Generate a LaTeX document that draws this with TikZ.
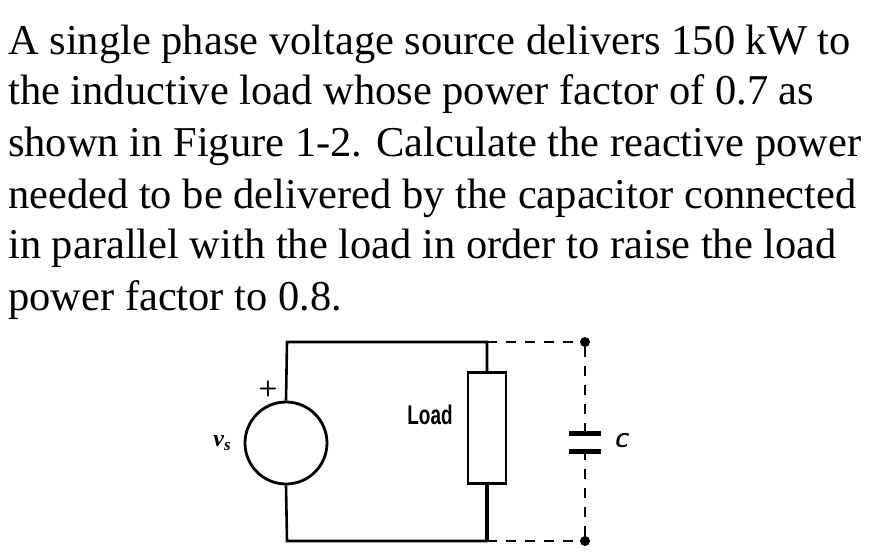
\documentclass[tikz,border=0pt]{standalone}
\usepackage{fontspec}
\setmainfont{Liberation Serif}
\newfontfamily\cirfont{Liberation Sans}[FakeStretch=0.7]
\begin{document}
\begin{tikzpicture}[x=1pt,y=-1pt, >=stealth,
    txt/.style={anchor=base west, inner sep=0pt, font=\fontsize{42.5}{50}\selectfont},
    wire/.style={line width=2.6pt},
    dashwire/.style={line width=2.6pt, dash pattern=on 10pt off 9pt},
    dot/.style={circle, fill, inner sep=0pt, minimum size=10pt}]
    \useasboundingbox (0,0) rectangle (888,559);
    % problem text
    \node[txt] (l1) at (8,55) {A single phase voltage source delivers 150 kW to};
    \node[txt] (l2) at (8,105) {the inductive load whose power factor of 0.7 as};
    \node[txt] (l3) at (8,157) {shown in Figure 1-2. Calculate the reactive power};
    \node[txt] (l4) at (8,208) {needed to be delivered by the capacitor connected};
    \node[txt] (l5) at (8,258) {in parallel with the load in order to raise the load};
    \node[txt] (l6) at (8,310) {power factor to 0.8.};
    % circuit
    \node[circle, draw, line width=2.8pt, minimum size=82pt, inner sep=0pt] (src) at (286,443) {};
    \node[rectangle, draw, line width=2.6pt, minimum width=38pt, minimum height=111pt, inner sep=0pt] (load) at (487,428) {};
    \coordinate (tl) at (287,342);
    \coordinate (bl) at (287,541);
    \coordinate (tm) at (487,342);
    \coordinate (bm) at (487,541);
    \node[dot] (tr) at (585,342) {};
    \node[dot] (br) at (585,541) {};
    \coordinate (p1) at (585,433);
    \coordinate (p2) at (585,451);
    \draw[wire] (src.north) -- (tl) -- (tm) -- (load.north);
    \draw[wire] (src.south) -- (bl) -- (bm);
    \draw[line width=4pt] (load.south) -- (bm);
    \draw[dashwire] (tm) -- (tr);
    \draw[dashwire] (bm) -- (br);
    \draw[dashwire] (tr) -- (p1);
    \draw[dashwire] (br) -- (p2);
    \draw[line width=5pt] (569,433) -- (601,433);
    \draw[line width=5pt] (569,451) -- (601,451);
    % labels
    \node[font=\cirfont\bfseries\fontsize{27}{28}\selectfont] (loadlbl) at (430,415) {Load};
    \node[font=\sffamily\bfseries\itshape\fontsize{20}{20}\selectfont] (clbl) at (621,441) {C};
    \node[font=\sffamily\bfseries\fontsize{22}{22}\selectfont] (plus) at (268,389) {+};
    \node[font=\bfseries\itshape\fontsize{24}{24}\selectfont] (vs) at (222,443) {v\raisebox{-4pt}{\fontsize{17}{17}\selectfont s}};
\end{tikzpicture}
\end{document}
